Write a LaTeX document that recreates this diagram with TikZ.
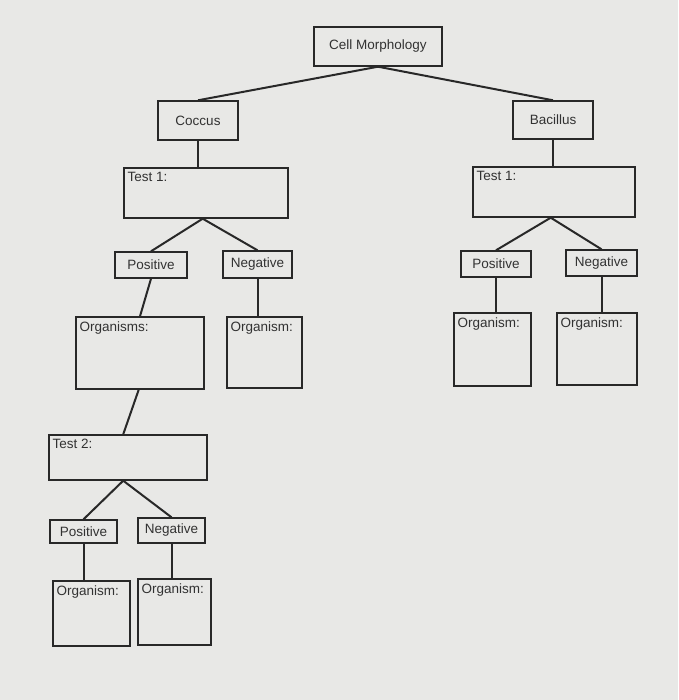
\documentclass[tikz,border=0pt]{standalone}
\usepackage{fontspec}
\setmainfont{Liberation Sans}
\usetikzlibrary{calc}
\definecolor{bg}{RGB}{232,232,230}
\definecolor{ink}{RGB}{40,40,40}
\definecolor{txt}{RGB}{50,50,50}
\tikzset{
  box/.style={draw=ink, line width=1.4pt, rectangle, inner sep=0pt, text=txt,
    font=\fontsize{13.5}{15}\selectfont},
  link/.style={draw=ink, line width=2pt},
  tl/.style={anchor=north west, inner sep=0pt, text=txt, font=\fontsize{13.5}{15}\selectfont}
}
% place a box by its pixel corners
\newcommand{\pbox}[6]{%
  \node[box, minimum width={#4-#2}, minimum height={#5-#3}] (#1) at ({(#2+#4)/2},{(#3+#5)/2}) {#6};}
\newcommand{\lbox}[6]{%
  \node[box, minimum width={#4-#2}, minimum height={#5-#3}] (#1) at ({(#2+#4)/2},{(#3+#5)/2}) {};
  \node[tl] (#1t) at ($(#1.north west)+(4,5)$) {#6};}
\begin{document}
\begin{tikzpicture}[x=1pt,y=-1pt]
\fill[bg] (0,0) rectangle (678,700);
\useasboundingbox (0,0) rectangle (678,700);
% top
\pbox{cm}{314}{27}{442}{66}{Cell Morphology}
\pbox{co}{158}{101}{238}{140}{Coccus}
\pbox{ba}{513}{101}{593}{139}{Bacillus}
% left branch
\lbox{tl1}{124}{168}{288}{218}{Test 1:}
\pbox{lp}{115}{252}{187}{278}{Positive}
\pbox{ln}{223}{251}{292}{278}{Negative}
\lbox{lorgs}{76}{317}{204}{389}{Organisms:}
\lbox{lorg}{227}{317}{302}{388}{Organism:}
\lbox{t2}{49}{435}{207}{480}{Test 2:}
\pbox{p2}{50}{520}{117}{543}{Positive}
\pbox{n2}{138}{518}{205}{543}{Negative}
\lbox{o2a}{53}{581}{130}{646}{Organism:}
\lbox{o2b}{138}{579}{211}{645}{Organism:}
% right branch
\lbox{tr1}{473}{167}{635}{217}{Test 1:}
\pbox{rp}{461}{251}{531}{277}{Positive}
\pbox{rn}{566}{250}{637}{276}{Negative}
\lbox{rpo}{454}{313}{531}{386}{Organism:}
\lbox{rno}{557}{313}{637}{385}{Organism:}
% connectors
\draw[link] (cm.south) -- (co.north);
\draw[link] (cm.south) -- (ba.north);
\draw[link] (co.south) -- (co.south |- tl1.north);
\draw[link] (ba.south) -- (ba.south |- tr1.north);
\coordinate (ap1) at ($(tl1.south west)!0.48!(tl1.south east)$);
\draw[link] (ap1) -- (lp.north);
\draw[link] (ap1) -- (ln.north);
\draw[link] (lp.south) -- (lorgs.north);
\draw[link] (ln.south) -- (ln.south |- lorg.north);
\coordinate (ob) at ($(lorgs.south west)!0.49!(lorgs.south east)$);
\coordinate (t2n) at ($(t2.north west)!0.47!(t2.north east)$);
\draw[link] (ob) -- (t2n);
\coordinate (ap2) at ($(t2.south west)!0.47!(t2.south east)$);
\draw[link] (ap2) -- (p2.north);
\draw[link] (ap2) -- (n2.north);
\draw[link] (p2.south) -- (p2.south |- o2a.north);
\draw[link] (n2.south) -- (n2.south |- o2b.north);
\coordinate (ap3) at ($(tr1.south west)!0.48!(tr1.south east)$);
\draw[link] (ap3) -- (rp.north);
\draw[link] (ap3) -- (rn.north);
\draw[link] (rp.south) -- (rp.south |- rpo.north);
\draw[link] (rn.south) -- (rn.south |- rno.north);
\end{tikzpicture}
\end{document}
